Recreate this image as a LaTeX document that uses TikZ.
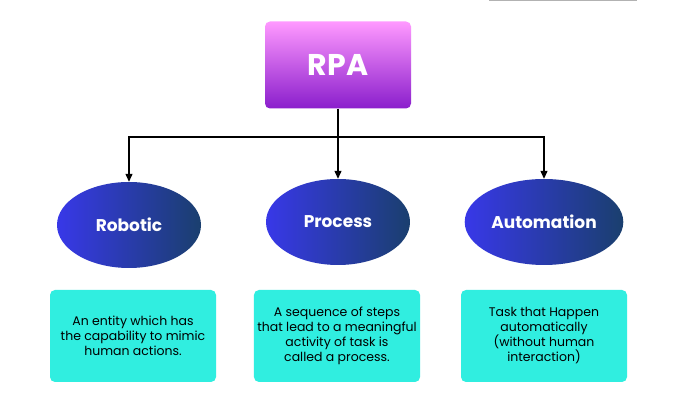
\documentclass[tikz,border=0pt]{standalone}
\usepackage{fontspec}
\setmainfont{Poppins}
\usetikzlibrary{shapes.geometric,arrows.meta}
\definecolor{cyanbox}{HTML}{30EEE0}
\definecolor{elL}{HTML}{3838E8}
\definecolor{elR}{HTML}{1A3F6E}
\definecolor{rpaT}{HTML}{FF99FF}
\definecolor{rpaB}{HTML}{8A1ECC}
\begin{document}
\begin{tikzpicture}[x=1pt,y=-1pt,
  ell/.style={ellipse,minimum width=144pt,minimum height=86pt,left color=elL,right color=elR,text=white,font=\bfseries\fontsize{17}{20}\selectfont,draw=none},
  box/.style={rounded corners=5pt,fill=cyanbox,minimum width=166pt,minimum height=92pt,align=center,font=\fontsize{12.5}{15}\selectfont},
  arr/.style={-{Triangle[length=8pt,width=7pt]},line width=1.2pt}]
\useasboundingbox (0,0) rectangle (680,411);
\fill[white] (0,0) rectangle (680,411);
\draw[gray!60,line width=1pt] (489,-5) -- (489,1) -- (636,1) -- (636,-5);
\node[rounded corners=5pt,minimum width=146pt,minimum height=87pt,top color=rpaT,bottom color=rpaB,text=white,font=\bfseries\fontsize{30}{34}\selectfont] (rpa) at (338,65) {RPA};
\node[ell] (r) at (129,225) {Robotic};
\node[ell] (p) at (338,222) {Process};
\node[ell] (a) at (544,222) {Automation};
\coordinate (j) at (338,137);
\draw[line width=1.2pt] (rpa.south) -- (j);
\draw[arr] (j) -| (r.north);
\draw[arr] (j) -- (p.north);
\draw[arr] (j) -| (a.north);
\node[box] (b1) at (133,336) {An entity which has\\the capability to mimic\\human actions.};
\node[box] (b2) at (337,336) {A sequence of steps\\that lead to a meaningful\\activity of task is\\called a process.};
\node[box] (b3) at (544,336) {Task that Happen\\automatically\\(without human\\interaction)};
\end{tikzpicture}
\end{document}
